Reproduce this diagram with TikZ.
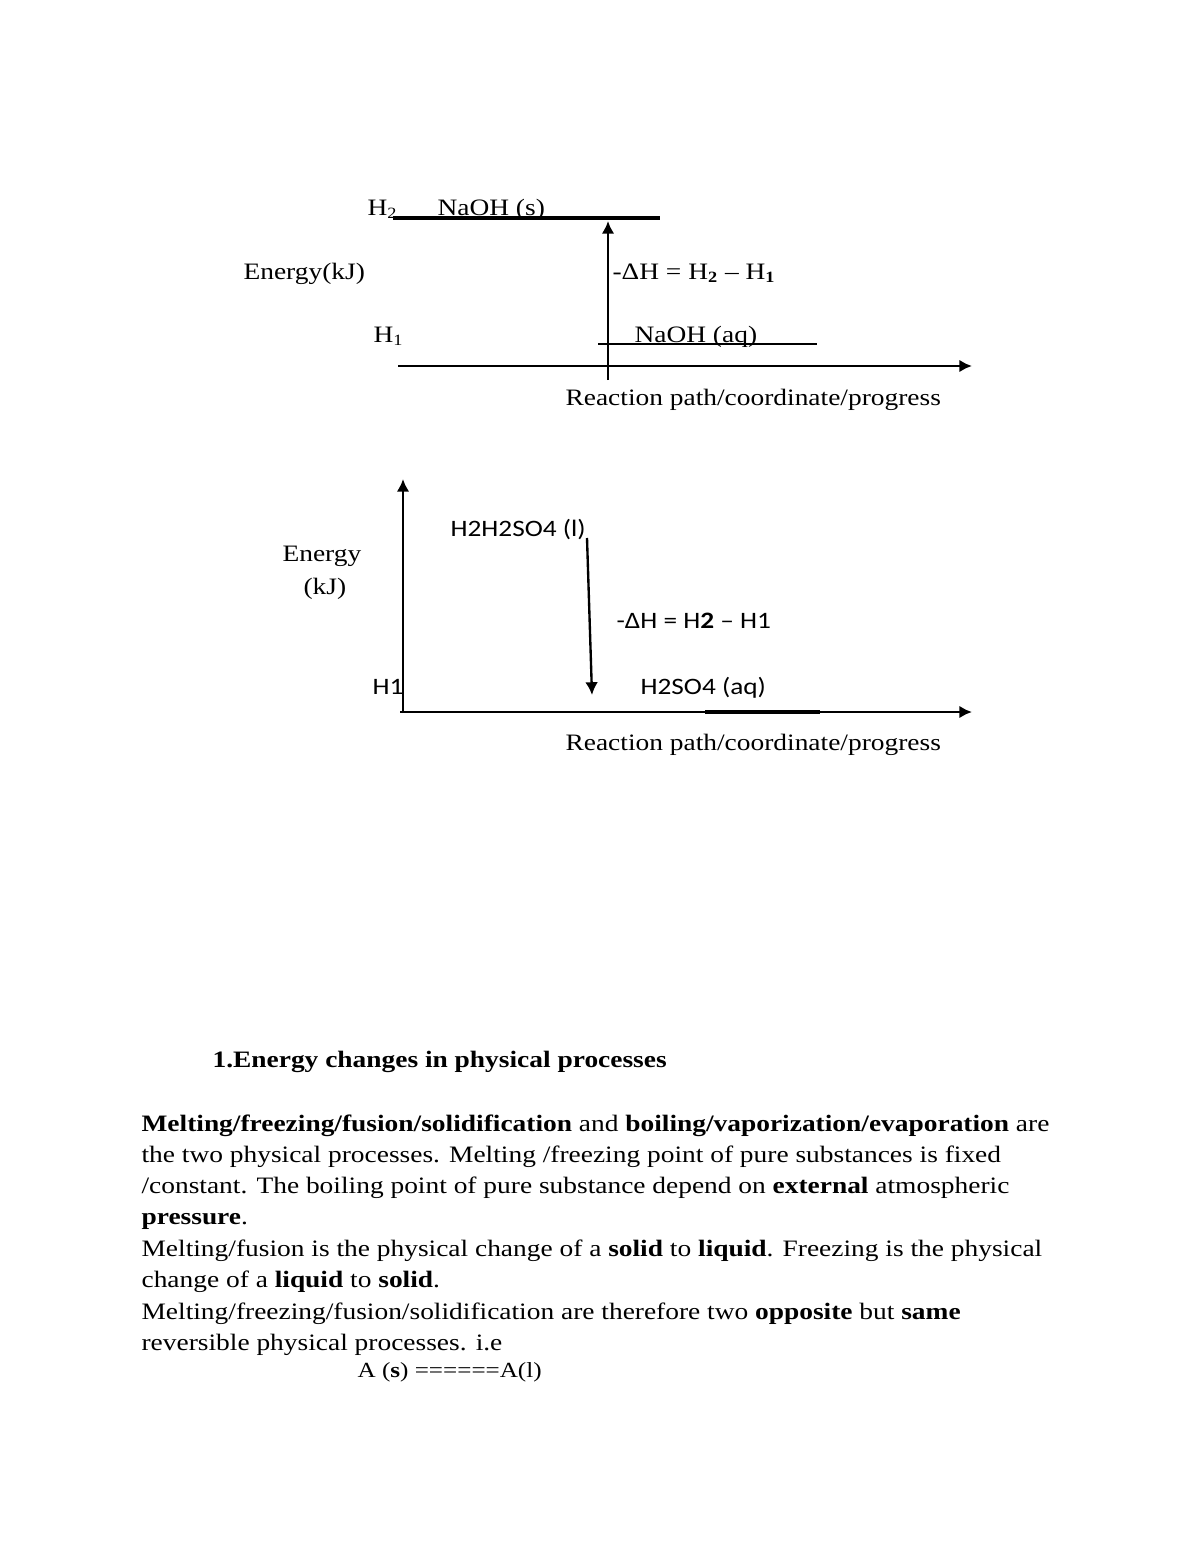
\documentclass[tikz,border=0pt]{standalone}
\usepackage{fontspec}
\setmainfont{Liberation Serif}[FakeStretch=1.165]
\newfontfamily\calibri{Carlito}[FakeStretch=1.16]
\usetikzlibrary{arrows.meta,positioning}
\begin{document}
\begin{tikzpicture}[x=0.51pt,y=-0.51pt,>={Latex[length=6.5pt,width=6.5pt]},semithick,
    lbl/.style={anchor=base west,inner sep=0pt,font=\fontsize{12}{14}\selectfont},
    slbl/.style={anchor=base west,inner sep=0pt,font=\fontsize{12}{14}\selectfont\calibri},
    axis/.style={->,line width=1.4pt},
    level/.style={line width=1.8pt}]
\useasboundingbox (0,0) rectangle (1200,1553);
% first diagram: NaOH (s) -> NaOH (aq)
\node[lbl] (hA) at (367,215) {H\textsubscript{2}};
\node[lbl] (solid) at (437,215) {NaOH (s)};
\node[lbl] (enA) at (243,279) {Energy(kJ)};
\node[lbl] (dhA) at (612,279) {-ΔH = H\textsubscript{\textbf{2}} – H\textsubscript{\textbf{1}}};
\node[lbl] (hB) at (373,342) {H\textsubscript{1}};
\node[lbl] (aq) at (634,342) {NaOH (aq)};
\node[lbl] (pathA) at (565,405) {Reaction path/coordinate/progress};
\coordinate (topL) at (393,218);
\coordinate (topR) at (660,218);
\coordinate (lowL) at (598,344);
\coordinate (lowR) at (817,344);
\coordinate (axL) at (398,366);
\coordinate (axR) at (972,366);
\coordinate (upS) at (608,380);
\coordinate (upE) at (608,221);
\draw[level] (topL) -- (topR);
\draw[line width=1.1pt] (lowL) -- (lowR);
\draw[axis] (axL) -- (axR);
\draw[axis] (upS) -- (upE);
% second diagram: H2SO4 (l) -> H2SO4 (aq)
\node[lbl] (enB) at (282,561) {Energy};
\node[lbl] (kj) at (303,594) {(kJ)};
\node[slbl] (acid) at (450,536) {H2H2SO4 (l)};
\node[slbl] (dhB) at (616,628) {-ΔH = H\textbf{2} – H1};
\node[slbl] (hC) at (372,694) {H1};
\node[slbl] (dil) at (640,694) {H2SO4 (aq)};
\node[lbl] (pathB) at (565,750) {Reaction path/coordinate/progress};
\coordinate (org) at (403,713);
\coordinate (yTop) at (403,479);
\coordinate (xL) at (400,712);
\coordinate (xR) at (972,712);
\coordinate (dnS) at (587,538);
\coordinate (dnE) at (592,695);
\coordinate (dilL) at (705,712);
\coordinate (dilR) at (820,712);
\draw[axis] (org) -- (yTop);
\draw[axis] (xL) -- (xR);
\draw[level] (dilL) -- (dilR);
\draw[->,line width=1.2pt] (dnS) -- (dnE);
% text below the diagrams
\node[lbl,font=\fontsize{12}{14}\selectfont\bfseries] (head) at (212,1067) {1.Energy changes in physical processes};
\node[lbl] (l1) at (141,1131) {\textbf{Melting/freezing/fusion/solidification} and \textbf{boiling/vaporization/evaporation} are};
\node[lbl] (l2) at (141,1162) {the two physical processes. Melting /freezing point of pure substances is fixed};
\node[lbl] (l3) at (141,1193) {/constant. The boiling point of pure substance depend on \textbf{external} atmospheric};
\node[lbl] (l4) at (141,1224) {\textbf{pressure}.};
\node[lbl] (l5) at (141,1256) {Melting/fusion is the physical change of a \textbf{solid} to \textbf{liquid}. Freezing is the physical};
\node[lbl] (l6) at (141,1287) {change of a \textbf{liquid} to \textbf{solid}.};
\node[lbl] (l7) at (141,1319) {Melting/freezing/fusion/solidification are therefore two \textbf{opposite} but \textbf{same}};
\node[lbl] (l8) at (141,1350) {reversible physical processes. i.e};
\node[lbl,font=\fontsize{11}{13}\selectfont] (eq) at (357,1377) {A (\textbf{s}) ======A(l)};
\end{tikzpicture}
\end{document}
